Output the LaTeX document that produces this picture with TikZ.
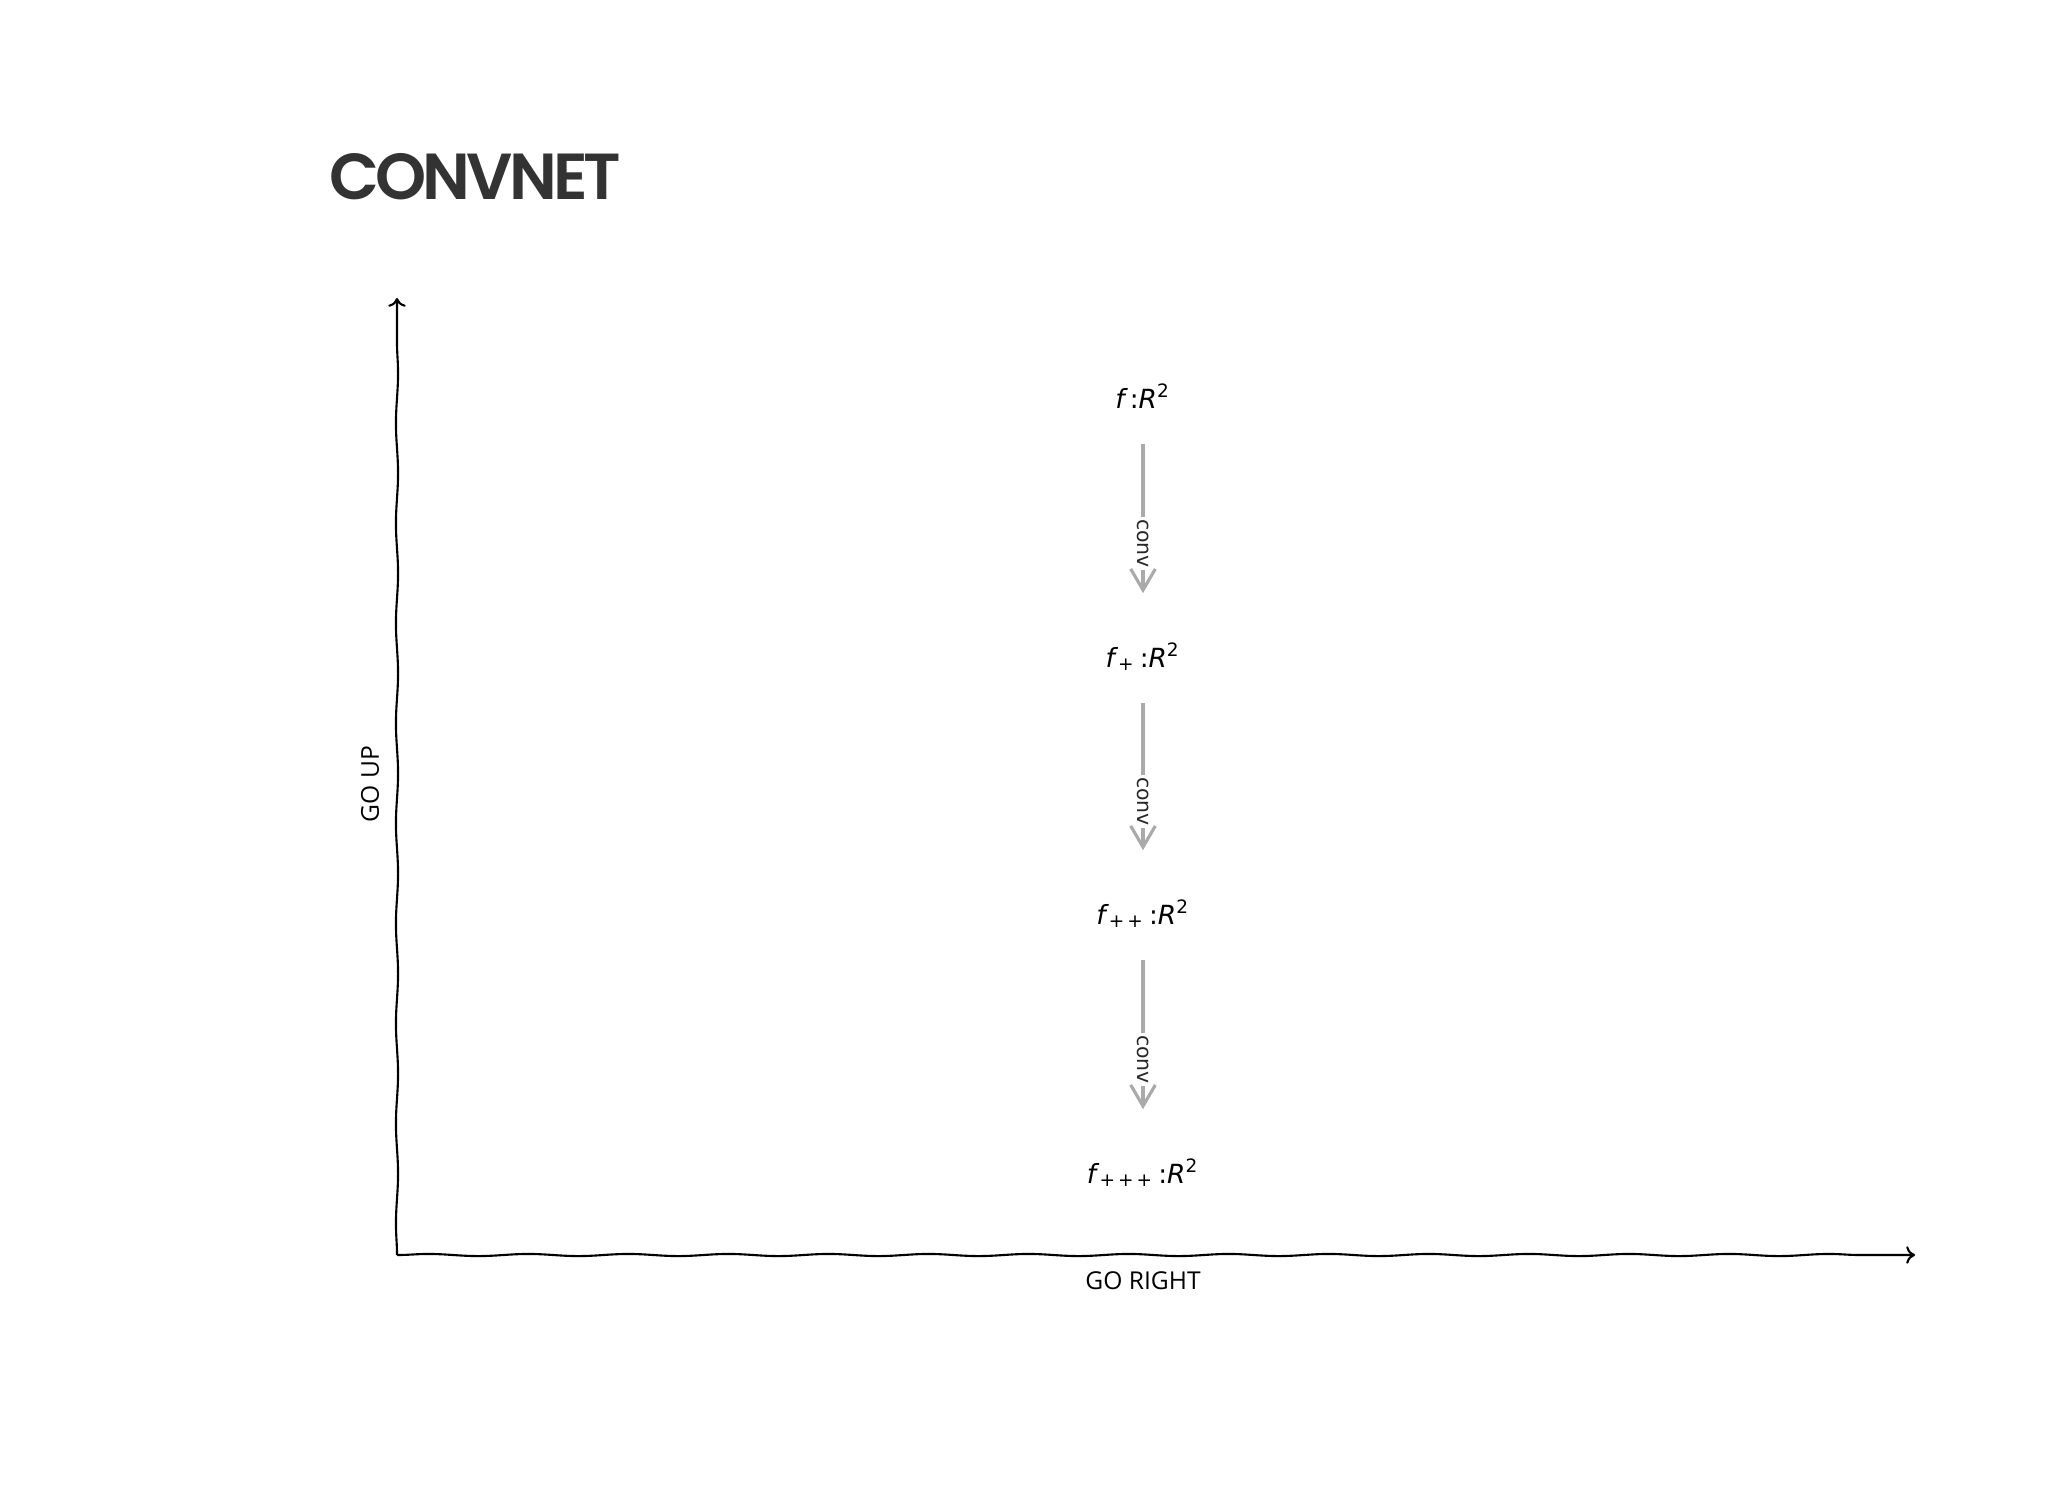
\documentclass[tikz,border=0pt]{standalone}
\usepackage{fontspec}
\usetikzlibrary{arrows.meta,decorations.pathmorphing}
\newfontfamily\titlefont{Poppins SemiBold}[LetterSpace=-6]
\newfontfamily\labelfont{DejaVu Sans}
\newfontfamily\handfont{Open Sans}
\definecolor{titlegray}{HTML}{333333}
\definecolor{arrowgray}{HTML}{AAAAAA}
\newcommand{\funlab}[2]{{\labelfont\textit{f}\textsubscript{#1}#2:\textit{R}\textsuperscript{2}}}
\tikzset{
  axisline/.style={line width=0.6pt,-{To[length=2.5pt,width=5pt]},decorate,
    decoration={snake,amplitude=0.3pt,segment length=1cm,post length=4pt}},
  funnode/.style={inner sep=0pt,font=\fontsize{7.5}{9}\selectfont},
  convarrow/.style={arrowgray,line width=0.9pt,-{Straight Barb[length=6pt,width=7pt]},
    shorten <=9pt,shorten >=14pt},
  convlab/.style={fill=white,inner sep=0.6pt,rotate=-90,text=black!85,
    font=\labelfont\fontsize{5.8}{6}\selectfont},
  axislab/.style={font=\handfont\fontsize{7}{8}\selectfont}
}
\begin{document}
\begin{tikzpicture}[x=0.01cm,y=-0.01cm]
	\useasboundingbox (0,0) rectangle (2048,1493);
	% title
	\node[anchor=base west,inner sep=0pt,text=titlegray,font=\titlefont\fontsize{18.5}{22}\selectfont] (title) at (329,199) {CONVNET};
	% axes
	\coordinate (orig) at (397,1255);
	\coordinate (ytop) at (397,298);
	\coordinate (xend) at (1915,1255);
	\draw[axisline] (orig) -- (ytop);
	\draw[axisline] (orig) -- (xend);
	\node[axislab,rotate=90] (uplab) at (370,784) {GO UP};
	\node[axislab] (rightlab) at (1143,1281) {GO RIGHT};
	% layers
	\node[funnode] (f0) at (1143,398) {\funlab{}{}};
	\node[funnode] (f1) at (1143,657) {\funlab{+}{\,}};
	\node[funnode] (f2) at (1143,914) {\funlab{+\,+}{\,}};
	\node[funnode] (f3) at (1143,1173) {\funlab{+\,+\,+}{\,}};
	\draw[convarrow] (f0) -- node[convlab,pos=0.57] (c1) {conv} (f1);
	\draw[convarrow] (f1) -- node[convlab,pos=0.57] (c2) {conv} (f2);
	\draw[convarrow] (f2) -- node[convlab,pos=0.57] (c3) {conv} (f3);
\end{tikzpicture}
\end{document}
